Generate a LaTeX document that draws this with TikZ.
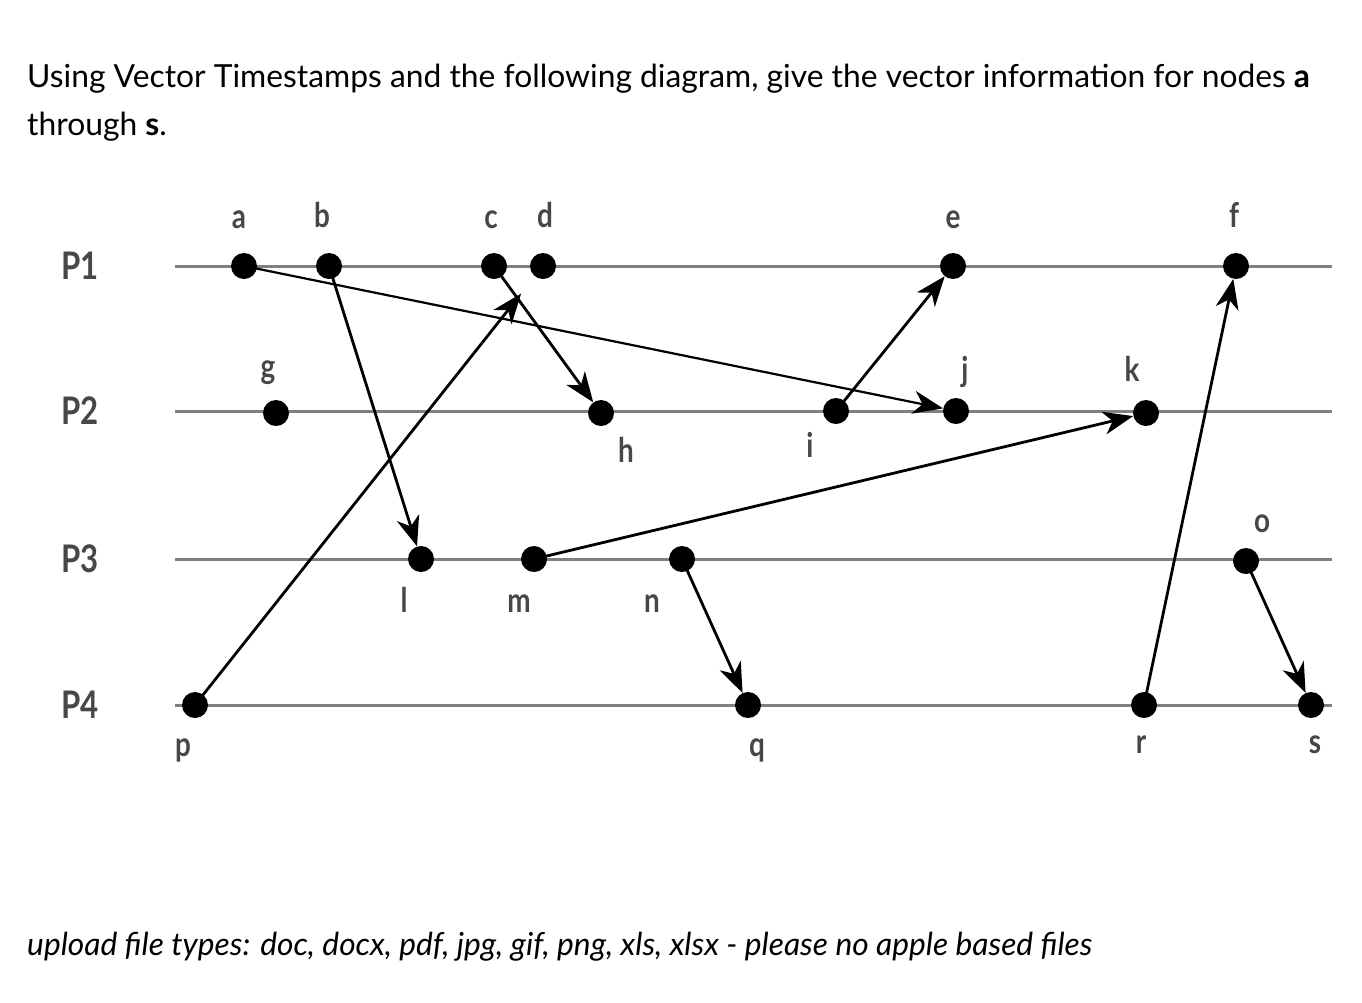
\documentclass[tikz,border=0pt]{standalone}
\usepackage{fontspec}
\setmainfont{Lato}
\newfontfamily\lblfont[FakeStretch=0.82]{Lato}
\usetikzlibrary{arrows.meta}
\begin{document}
\begin{tikzpicture}[x=1pt,y=-1pt,
  dot/.style={circle,fill=black,inner sep=0pt,minimum size=26pt},
  lbl/.style={font=\lblfont\bfseries\fontsize{34}{38}\selectfont,text=black!72,inner sep=0pt},
  proc/.style={font=\lblfont\bfseries\fontsize{38}{42}\selectfont,text=black!72,inner sep=0pt},
  tline/.style={draw=black!50,line width=3pt},
  msg/.style={draw=black,line width=2.8pt,-{Stealth[length=30pt,width=23pt,inset=9pt]}},
  para/.style={font=\fontsize{31.8}{38}\selectfont,text=black,inner sep=0pt,anchor=base west}]
\useasboundingbox (0,0) rectangle (1362,1002);
\fill[white] (0,0) rectangle (1362,1002);
% text
\node[para] (t1) at (27,87) {Using Vector Timestamps and the following diagram, give the vector information for nodes \textbf{a}};
\node[para] (t2) at (27,135) {through \textbf{s}.};
\node[para,font=\itshape\fontsize{31.7}{38}\selectfont] (t3) at (27,955) {upload file types: doc, docx, pdf, jpg, gif, png, xls, xlsx - please no apple based files};
% process lines
\coordinate (s1) at (175,266); \coordinate (e1) at (1332,266);
\coordinate (s2) at (175,411); \coordinate (e2) at (1332,411);
\coordinate (s3) at (175,559); \coordinate (e3) at (1332,559);
\coordinate (s4) at (175,705); \coordinate (e4) at (1332,705);
\draw[tline] (s1) -- (e1);
\draw[tline] (s2) -- (e2);
\draw[tline] (s3) -- (e3);
\draw[tline] (s4) -- (e4);
\node[proc] (P1) at (80,266) {P1};
\node[proc] (P2) at (80,411) {P2};
\node[proc] (P3) at (80,559) {P3};
\node[proc] (P4) at (80,705) {P4};
% events
\node[dot] (a) at (244,266) {};
\node[dot] (b) at (329,266) {};
\node[dot] (c) at (494,266) {};
\node[dot] (d) at (543,266) {};
\node[dot] (e) at (953,266) {};
\node[dot] (f) at (1236,266) {};
\node[dot] (g) at (276,413) {};
\node[dot] (h) at (601,413) {};
\node[dot] (i) at (836,411) {};
\node[dot] (j) at (956,411) {};
\node[dot] (k) at (1146,413) {};
\node[dot] (l) at (421,559) {};
\node[dot] (m) at (534,559) {};
\node[dot] (n) at (682,559) {};
\node[dot] (o) at (1246,561) {};
\node[dot] (p) at (195,705) {};
\node[dot] (q) at (748,705) {};
\node[dot] (r) at (1144,705) {};
\node[dot] (s) at (1311,705) {};
% labels
\node[lbl] (la) at (239,220) {a};
\node[lbl] (lb) at (322,215) {b};
\node[lbl] (lc) at (491,220) {c};
\node[lbl] (ld) at (545,215) {d};
\node[lbl] (le) at (953,220) {e};
\node[lbl] (lf) at (1234,215) {f};
\node[lbl] (lg) at (268,373) {g};
\node[lbl] (lh) at (626,450) {h};
\node[lbl] (li) at (810,445) {i};
\node[lbl] (lj) at (965,372) {j};
\node[lbl] (lk) at (1132,369) {k};
\node[lbl] (ll) at (404,600) {l};
\node[lbl] (lm) at (519,604) {m};
\node[lbl] (ln) at (652,604) {n};
\node[lbl] (lo) at (1262,524) {o};
\node[lbl] (lp) at (183,750) {p};
\node[lbl] (lq) at (757,750) {q};
\node[lbl] (lr) at (1141,745) {r};
\node[lbl] (ls) at (1315,745) {s};
% messages
\draw[msg,line width=2.2pt] (a.center) -- (j);
\draw[msg] (b.center) -- (l);
\draw[msg] (c.center) -- (h);
\draw[msg,shorten >=22pt] (p.center) -- (d);
\draw[msg] (i.center) -- (e);
\draw[msg] (m.center) -- (k);
\draw[msg] (n.center) -- (q);
\draw[msg] (r.center) -- (f);
\draw[msg] (o.center) -- (s);
\end{tikzpicture}
\end{document}
